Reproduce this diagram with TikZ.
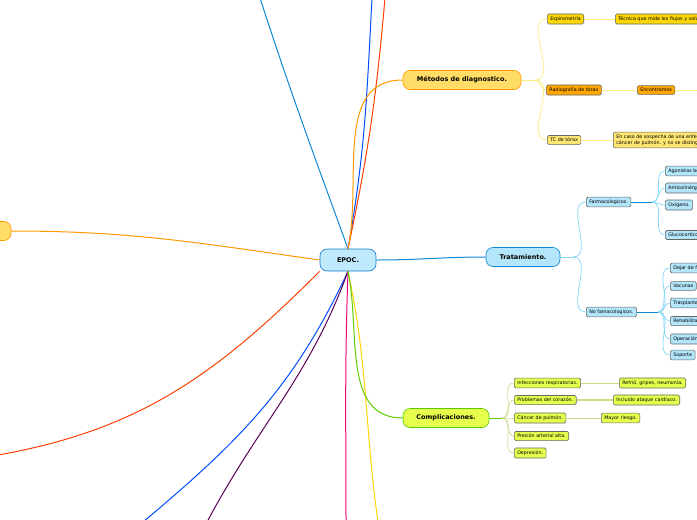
\documentclass[tikz,border=0pt]{standalone}
\usepackage{fontspec}
\setmainfont{DejaVu Sans}
\begin{document}
\begin{tikzpicture}[x=1pt,y=-1pt,
 sm/.style={draw=black!60,rounded corners=1.5pt,font=\fontsize{4.8}{5.8}\selectfont,inner xsep=3pt,inner ysep=2.6pt,anchor=west,line width=0.6pt},
 mn/.style={draw,rounded corners=7pt,font=\fontsize{6.5}{8}\selectfont\bfseries,minimum height=19pt,line width=0.6pt},
 yb/.style={sm,fill=yellow!75!orange},
 ob/.style={sm,fill=orange!70!yellow},
 lo/.style={sm,fill=orange!35!yellow!55},
 bb/.style={sm,fill=cyan!30},
 gb/.style={sm,fill=lime!55!yellow!70},
 ly/.style={draw=orange!30!yellow!50,line width=0.7pt},
 lb/.style={draw=cyan!50,line width=0.7pt},
 lg/.style={draw=lime!50!yellow!50!gray!60,line width=0.7pt}]
\useasboundingbox (0,0) rectangle (697,520);
\clip (0,0) rectangle (697,520);
\coordinate (t1) at (260,-2); \coordinate (t2) at (372,-2); \coordinate (t3) at (385,-2);
\coordinate (b1) at (143,522); \coordinate (b2) at (207,522); \coordinate (b3) at (346,522); \coordinate (b4) at (378,522);
\coordinate (l2) at (-2,455);
\node[mn,fill=orange!45!yellow!60,draw=orange!80!yellow,minimum width=22pt] (left) at (0,231) {};
\node[mn,fill=cyan!25,draw=cyan!60!blue,minimum width=56pt,minimum height=22pt] (epoc) at (348,260) {EPOC.};
\node[mn,fill=orange!45!yellow!60,draw=orange!80!yellow,minimum width=118pt] (met) at (462,80) {Métodos de diagnostico.};
\node[mn,fill=cyan!30,draw=cyan!70!blue,minimum width=74pt] (tra) at (523,257) {Tratamiento.};
\node[mn,fill=lime!55!yellow!70,draw=lime!60!green!80!black,minimum width=86pt] (com) at (446,418) {Complicaciones.};
\begin{scope}[line width=1pt]
\draw[cyan!70!blue] (epoc.north) to[out=110,in=-72] (t1);
\draw[blue!70!cyan] (epoc.north) to[out=80,in=-93] (t2);
\draw[orange!50!red] (epoc.north) to[out=78,in=-95] (t3);
\draw[orange!80!yellow] (epoc.west) to[out=172,in=0] (left.east);
\draw[orange!50!red] (epoc.south west) to[out=225,in=10] (l2);
\draw[blue!70!cyan] (epoc.south) to[out=245,in=40] (b1);
\draw[violet!70!black] (epoc.south) to[out=250,in=62] (b2);
\draw[magenta!80!red] (epoc.south) to[out=268,in=90] (b3);
\draw[yellow!75!orange] (epoc.south) to[out=282,in=98] (b4);
\draw[orange!80!yellow] (epoc.north) to[out=78,in=180] (met.west);
\draw[cyan!70!blue] (epoc.east) to[out=0,in=180] (tra.west);
\draw[lime!60!green!80!black] (epoc.south) to[out=282,in=180] (com.west);
\end{scope}
% diagnostico
\node[yb] (esp) at (547,19) {Espirometría};
\node[yb] (tec) at (615,19) {Técnica que mide los flujos y volúmenes};
\node[ob] (rad) at (546,90) {Radiografía de tórax};
\node[ob] (enc) at (637,90) {Encontramos};
\node[lo] (tc) at (547,140) {TC de tórax};
\node[lo,align=left] (caso) at (613,140) {En caso de sospecha de una enfermedad\\cáncer de pulmón. y no se distingue};
\coordinate (mj) at (535,80);
\draw[ly] (met.east) -- (mj);
\foreach \n in {esp,rad,tc} \draw[ly] (mj) to[out=0,in=180] (\n.west);
\draw[ly] (esp) -- (tec); \draw[ly] (rad) -- (enc); \draw[ly] (tc) -- (caso);
\coordinate (ej) at (697,90); \draw[ly] (enc) -- (ej);
% tratamiento
\node[bb] (far) at (586,202) {Farmacologicos.};
\node[bb] (nof) at (586,312) {No famacologicos.};
\coordinate (tj) at (573,257);
\draw[lb] (tra.east) -- (tj);
\draw[lb] (tj) to[out=0,in=180] (far.west); \draw[lb] (tj) to[out=0,in=180] (nof.west);
\node[bb] (ago) at (665,171) {Agonistas beta};
\node[bb] (ant) at (665,188) {Anticolinérgicos};
\node[bb] (oxi) at (665,205) {Oxígeno.};
\node[bb] (glu) at (665,235) {Glucocorticoides};
\coordinate (fj) at (652,202);
\draw[cyan!70!blue,line width=1pt] (far.east) -- (fj);
\foreach \n in {ago,ant,oxi,glu} \draw[lb] (fj) to[out=0,in=180] (\n.west);
\node[bb] (dej) at (670,268) {Dejar de fumar};
\node[bb] (vac) at (670,286) {Vacunas};
\node[bb] (tras) at (670,303) {Trasplante};
\node[bb] (reh) at (670,321) {Rehabilitación};
\node[bb] (ope) at (670,339) {Operación};
\node[bb] (sop) at (670,355) {Soporte};
\coordinate (nj) at (658,312);
\draw[cyan!70!blue,line width=1pt] (nof.east) -- (nj);
\foreach \n in {dej,vac,tras,reh,ope,sop} \draw[lb] (nj) to[out=0,in=180] (\n.west);
% complicaciones
\node[gb] (inf) at (514,383) {Infecciones respiratorias.};
\node[gb] (pro) at (514,400) {Problemas del corazón.};
\node[gb] (can) at (514,418) {Cáncer de pulmón.};
\node[gb] (pre) at (514,436) {Presión arterial alta.};
\node[gb] (dep) at (514,453) {Depresión.};
\node[gb] (ref) at (619,383) {Refrió, gripes, neumonía.};
\node[gb] (inc) at (613,400) {Incluido ataque cardíaco.};
\node[gb] (may) at (601,418) {Mayor riesgo.};
\coordinate (cj) at (502,418);
\draw[lime!60!green!80!black,line width=1pt] (com.east) -- (cj);
\foreach \n in {inf,pro,can,pre,dep} \draw[lg] (cj) to[out=0,in=180] (\n.west);
\draw[lg] (inf) -- (ref); \draw[lg,line width=1.5pt] (pro) -- (inc); \draw[lg] (can) -- (may);
\end{tikzpicture}
\end{document}
